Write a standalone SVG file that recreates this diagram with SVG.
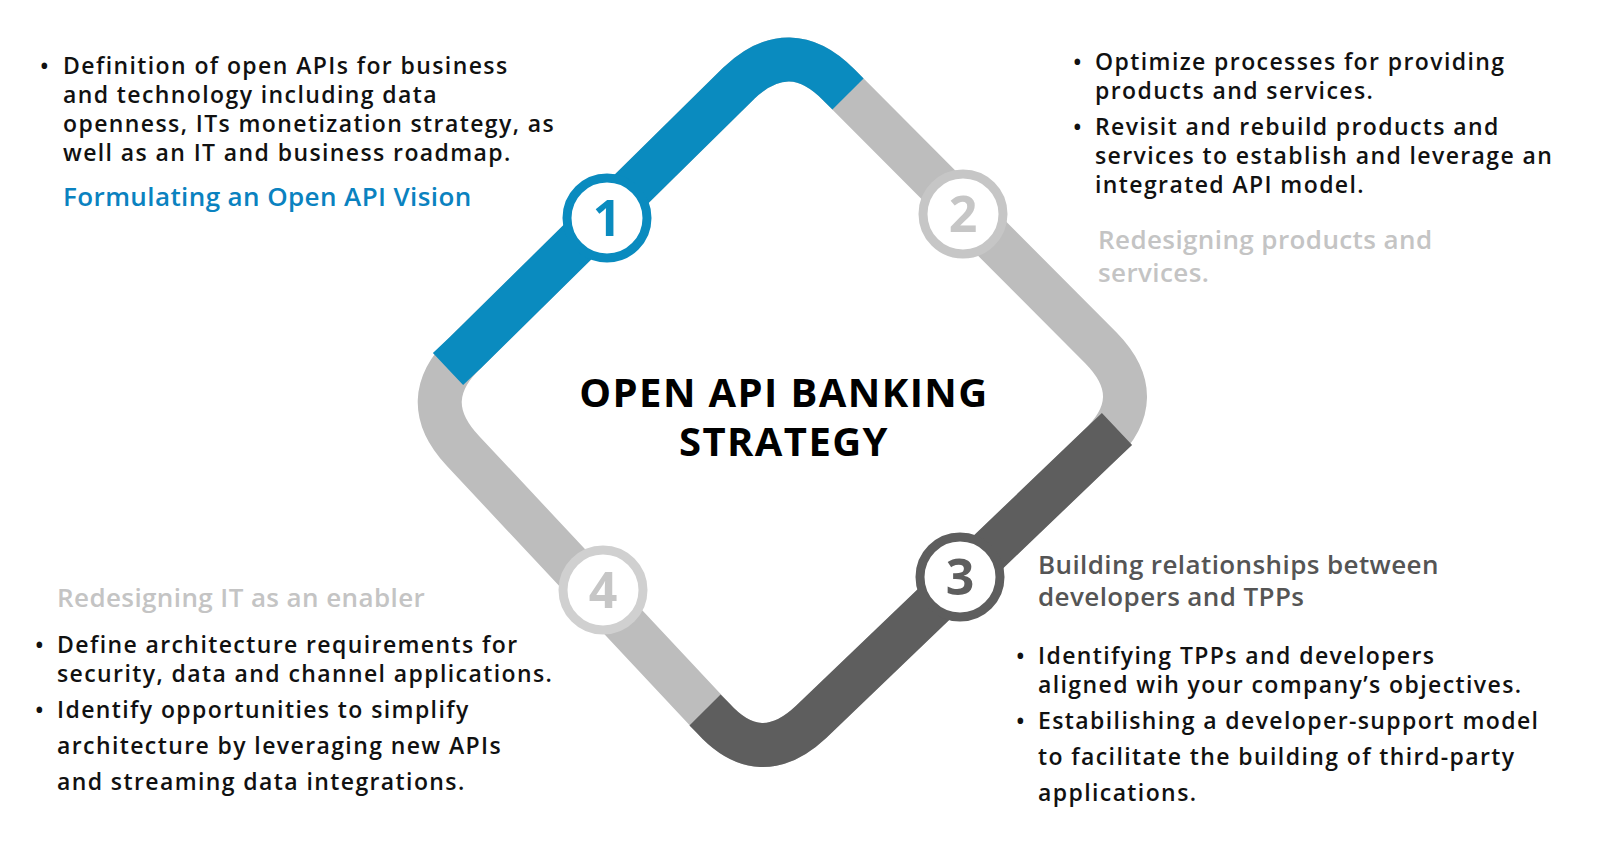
<svg xmlns="http://www.w3.org/2000/svg" width="1600" height="858" viewBox="0 0 1600 858">
<style>
.t{font-family:"Open Sans","Liberation Sans",sans-serif;font-size:23px;font-weight:600;fill:#111;letter-spacing:1.4px}
.h{font-family:"Open Sans","Liberation Sans",sans-serif;font-size:26px;font-weight:600;letter-spacing:0.4px}
.n{font-family:"Open Sans","Liberation Sans",sans-serif;font-size:50px;font-weight:700;text-anchor:middle}
.m{font-family:"Open Sans","Liberation Sans",sans-serif;font-size:40px;font-weight:700;letter-spacing:1.4px;text-anchor:middle}
.c{fill:#fff;stroke-width:9}
</style>
<rect width="1600" height="858" fill="#fff"/>
<g id="connectors" fill="none" stroke-width="44" stroke-linejoin="round">
<path d="M739,83 Q790,35 839,85 L1101,348 Q1150,398 1099,446 L811,722 Q760,770 713,718 L463,451 Q415,400 466,352 Z" stroke="#bdbdbd"/>
<path d="M448,369 L466,352 L739,83 Q790,35 839,85 L848,94" stroke="#0a8bbf"/>
<path d="M1117,429 L1099,446 L811,722 Q760,770 713,718 L705,710" stroke="#5e5e5e"/>
</g>
<g id="center"><text x="784" y="407" class="m">OPEN API BANKING</text>
<text x="784" y="456" class="m">STRATEGY</text></g>
<g id="node1"><circle cx="607" cy="218" r="40" class="c" stroke="#0a8bbf"/><text x="607" y="236" class="n" fill="#0a8bbf">1</text>
<text class="t"><tspan x="40" y="74">•</tspan><tspan x="63" y="74">Definition of open APIs for business</tspan><tspan x="63" y="103">and technology including data</tspan><tspan x="63" y="132">openness, ITs monetization strategy, as</tspan><tspan x="63" y="161">well as an IT and business roadmap.</tspan></text>
<text x="63" y="206" class="h" fill="#0a82c0">Formulating an Open API Vision</text></g>
<g id="node2"><circle cx="963" cy="214" r="40" class="c" stroke="#c6c6c6"/><text x="963" y="232" class="n" fill="#c6c6c6">2</text>
<text class="t"><tspan x="1073" y="70">•</tspan><tspan x="1095" y="70">Optimize processes for providing</tspan><tspan x="1095" y="99">products and services.</tspan><tspan x="1073" y="135">•</tspan><tspan x="1095" y="135">Revisit and rebuild products and</tspan><tspan x="1095" y="164">services to establish and leverage an</tspan><tspan x="1095" y="193">integrated API model.</tspan></text>
<text class="h" fill="#c4c4c4"><tspan x="1098" y="249">Redesigning products and</tspan><tspan x="1098" y="282">services.</tspan></text></g>
<g id="node3"><circle cx="960" cy="577" r="40" class="c" stroke="#5e5e5e"/><text x="960" y="595" class="n" fill="#5e5e5e">3</text>
<text class="h" fill="#555"><tspan x="1038" y="574">Building relationships between</tspan><tspan x="1038" y="606">developers and TPPs</tspan></text>
<text class="t"><tspan x="1016" y="664">•</tspan><tspan x="1038" y="664">Identifying TPPs and developers</tspan><tspan x="1038" y="693">aligned wih your company’s objectives.</tspan><tspan x="1016" y="729">•</tspan><tspan x="1038" y="729">Estabilishing a developer-support model</tspan><tspan x="1038" y="765">to facilitate the building of third-party</tspan><tspan x="1038" y="801">applications.</tspan></text></g>
<g id="node4"><circle cx="603" cy="590" r="40" class="c" stroke="#d0d0d0"/><text x="603" y="608" class="n" fill="#c6c6c6">4</text>
<text x="57" y="607" class="h" fill="#c4c4c4">Redesigning IT as an enabler</text>
<text class="t"><tspan x="35" y="653">•</tspan><tspan x="57" y="653">Define architecture requirements for</tspan><tspan x="57" y="682">security, data and channel applications.</tspan><tspan x="35" y="718">•</tspan><tspan x="57" y="718">Identify opportunities to simplify</tspan><tspan x="57" y="754">architecture by leveraging new APIs</tspan><tspan x="57" y="790">and streaming data integrations.</tspan></text></g>
</svg>
